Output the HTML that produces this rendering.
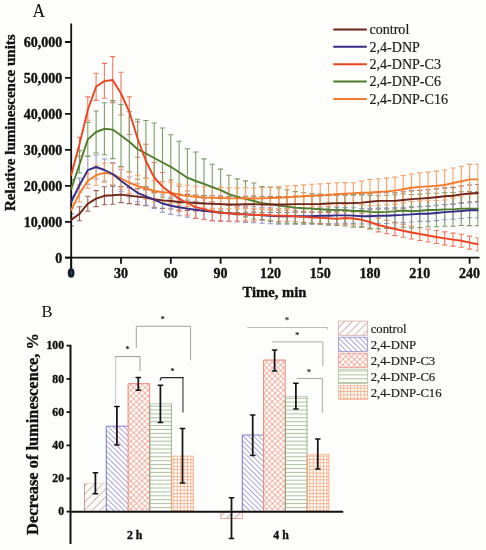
<!DOCTYPE html><html><head><meta charset="utf-8"><style>html,body{margin:0;padding:0;background:#fdfdfb;}svg{display:block}text{font-family:"Liberation Serif",serif;}.b{stroke:#111;stroke-width:0.35px;}</style></head><body>
<svg width="486" height="550" viewBox="0 0 486 550">
<rect width="486" height="550" fill="#fdfdfb"/>
<defs>
<pattern id="pCtl" patternUnits="userSpaceOnUse" width="5.6" height="10" patternTransform="rotate(45)"><line x1="0.5" y1="0" x2="0.5" y2="10" stroke="#cfa39a" stroke-width="0.85"/></pattern>
<pattern id="pDnp" patternUnits="userSpaceOnUse" width="3.7" height="10" patternTransform="rotate(-45)"><line x1="0.5" y1="0" x2="0.5" y2="10" stroke="#9c9ad4" stroke-width="0.9"/></pattern>
<pattern id="pC3a" patternUnits="userSpaceOnUse" width="4.0" height="10" patternTransform="rotate(45)"><line x1="0.5" y1="0" x2="0.5" y2="10" stroke="#f39a88" stroke-width="0.7"/></pattern>
<pattern id="pC3b" patternUnits="userSpaceOnUse" width="4.0" height="10" patternTransform="rotate(-45)"><line x1="0.5" y1="0" x2="0.5" y2="10" stroke="#f39a88" stroke-width="0.7"/></pattern>
<pattern id="pC6" patternUnits="userSpaceOnUse" width="10" height="3.9"><line x1="0" y1="0.5" x2="10" y2="0.5" stroke="#a3bb96" stroke-width="0.9"/></pattern>
<pattern id="pC16" patternUnits="userSpaceOnUse" width="3.4" height="3.4"><path d="M0 0.5H3.4M0.5 0V3.4" stroke="#f5a47a" stroke-width="0.75" fill="none"/></pattern>
<clipPath id="plotA"><rect x="70.4" y="0" width="408.2" height="300"/></clipPath>
</defs>
<text transform="translate(32.5,16.9) scale(1,1.1)" font-size="17.5" fill="#111">A</text>
<text transform="translate(14.8,211) rotate(-90)" font-size="15" font-weight="bold" class="b" fill="#111">Relative luminescence units</text>
<g clip-path="url(#plotA)">
<path d="M71.2 214.0V226.0M68.6 214.0h5.2M68.6 226.0h5.2M79.5 206.8V220.8M76.9 206.8h5.2M76.9 220.8h5.2M87.8 196.2V211.2M85.2 196.2h5.2M85.2 211.2h5.2M96.1 190.6V206.6M93.5 190.6h5.2M93.5 206.6h5.2M104.4 186.8V204.8M101.8 186.8h5.2M101.8 204.8h5.2M112.7 186.3V204.3M110.1 186.3h5.2M110.1 204.3h5.2M121.0 186.6V202.6M118.4 186.6h5.2M118.4 202.6h5.2M129.3 187.6V203.6M126.7 187.6h5.2M126.7 203.6h5.2M137.6 188.6V204.6M135.0 188.6h5.2M135.0 204.6h5.2M145.9 189.6V205.6M143.3 189.6h5.2M143.3 205.6h5.2M154.2 191.3V207.3M151.6 191.3h5.2M151.6 207.3h5.2M162.5 192.4V208.4M159.9 192.4h5.2M159.9 208.4h5.2M170.8 193.0V209.0M168.2 193.0h5.2M168.2 209.0h5.2M179.1 194.0V210.0M176.5 194.0h5.2M176.5 210.0h5.2M187.4 194.4V210.4M184.8 194.4h5.2M184.8 210.4h5.2M195.7 195.0V211.0M193.1 195.0h5.2M193.1 211.0h5.2M204.0 195.5V211.5M201.4 195.5h5.2M201.4 211.5h5.2M212.3 195.7V211.7M209.7 195.7h5.2M209.7 211.7h5.2M220.6 196.1V212.1M218.0 196.1h5.2M218.0 212.1h5.2M228.9 196.5V212.5M226.3 196.5h5.2M226.3 212.5h5.2M237.2 196.5V212.5M234.6 196.5h5.2M234.6 212.5h5.2M245.5 196.3V212.3M242.9 196.3h5.2M242.9 212.3h5.2M253.8 196.1V212.1M251.2 196.1h5.2M251.2 212.1h5.2M262.1 196.5V212.5M259.5 196.5h5.2M259.5 212.5h5.2M270.4 196.5V212.5M267.8 196.5h5.2M267.8 212.5h5.2M278.7 196.5V212.5M276.1 196.5h5.2M276.1 212.5h5.2M287.0 196.5V212.5M284.4 196.5h5.2M284.4 212.5h5.2M295.3 196.1V212.1M292.7 196.1h5.2M292.7 212.1h5.2M303.6 196.1V212.1M301.0 196.1h5.2M301.0 212.1h5.2M311.9 196.1V212.1M309.3 196.1h5.2M309.3 212.1h5.2M320.2 196.0V212.0M317.6 196.0h5.2M317.6 212.0h5.2M328.5 195.5V211.5M325.9 195.5h5.2M325.9 211.5h5.2M336.8 195.1V211.1M334.2 195.1h5.2M334.2 211.1h5.2M345.1 195.1V211.1M342.5 195.1h5.2M342.5 211.1h5.2M353.4 195.0V211.0M350.8 195.0h5.2M350.8 211.0h5.2M361.7 194.6V210.6M359.1 194.6h5.2M359.1 210.6h5.2M370.0 193.8V209.8M367.4 193.8h5.2M367.4 209.8h5.2M378.3 192.8V209.0M375.7 192.8h5.2M375.7 209.0h5.2M386.6 192.8V209.0M384.0 192.8h5.2M384.0 209.0h5.2M394.9 192.8V209.0M392.3 192.8h5.2M392.3 209.0h5.2M403.2 191.8V208.2M400.6 191.8h5.2M400.6 208.2h5.2M411.5 190.9V207.3M408.9 190.9h5.2M408.9 207.3h5.2M419.8 190.3V206.8M417.2 190.3h5.2M417.2 206.8h5.2M428.1 189.7V206.3M425.5 189.7h5.2M425.5 206.3h5.2M436.4 188.9V205.5M433.8 188.9h5.2M433.8 205.5h5.2M444.7 187.9V204.7M442.1 187.9h5.2M442.1 204.7h5.2M453.0 187.4V204.2M450.4 187.4h5.2M450.4 204.2h5.2M461.3 186.0V202.8M458.7 186.0h5.2M458.7 202.8h5.2M469.6 185.0V202.0M467.0 185.0h5.2M467.0 202.0h5.2M477.9 184.5V201.5M475.3 184.5h5.2M475.3 201.5h5.2" stroke="#9c6458" stroke-width="1.1" fill="none"/>
<path d="M71.2 196.0V208.0M68.6 196.0h5.2M68.6 208.0h5.2M79.5 178.0V192.0M76.9 178.0h5.2M76.9 192.0h5.2M87.8 156.2V184.2M85.2 156.2h5.2M85.2 184.2h5.2M96.1 155.0V179.0M93.5 155.0h5.2M93.5 179.0h5.2M104.4 159.0V181.0M101.8 159.0h5.2M101.8 181.0h5.2M112.7 162.5V185.5M110.1 162.5h5.2M110.1 185.5h5.2M121.0 169.8V191.8M118.4 169.8h5.2M118.4 191.8h5.2M129.3 177.0V197.0M126.7 177.0h5.2M126.7 197.0h5.2M137.6 183.8V201.8M135.0 183.8h5.2M135.0 201.8h5.2M145.9 187.4V205.2M143.3 187.4h5.2M143.3 205.2h5.2M154.2 190.8V208.4M151.6 190.8h5.2M151.6 208.4h5.2M162.5 194.8V212.2M159.9 194.8h5.2M159.9 212.2h5.2M170.8 197.0V214.4M168.2 197.0h5.2M168.2 214.4h5.2M179.1 198.6V215.8M176.5 198.6h5.2M176.5 215.8h5.2M187.4 200.1V217.1M184.8 200.1h5.2M184.8 217.1h5.2M195.7 201.4V218.2M193.1 201.4h5.2M193.1 218.2h5.2M204.0 202.6V219.2M201.4 202.6h5.2M201.4 219.2h5.2M212.3 203.7V220.2M209.7 203.7h5.2M209.7 220.2h5.2M220.6 204.5V220.9M218.0 204.5h5.2M218.0 220.9h5.2M228.9 205.2V221.4M226.3 205.2h5.2M226.3 221.4h5.2M237.2 206.0V222.0M234.6 206.0h5.2M234.6 222.0h5.2M245.5 206.4V222.4M242.9 206.4h5.2M242.9 222.4h5.2M253.8 206.8V222.8M251.2 206.8h5.2M251.2 222.8h5.2M262.1 207.5V223.3M259.5 207.5h5.2M259.5 223.3h5.2M270.4 207.9V223.7M267.8 207.9h5.2M267.8 223.7h5.2M278.7 208.4V224.2M276.1 208.4h5.2M276.1 224.2h5.2M287.0 208.4V224.2M284.4 208.4h5.2M284.4 224.2h5.2M295.3 208.4V224.2M292.7 208.4h5.2M292.7 224.2h5.2M303.6 208.4V224.2M301.0 208.4h5.2M301.0 224.2h5.2M311.9 208.5V224.1M309.3 208.5h5.2M309.3 224.1h5.2M320.2 208.0V223.6M317.6 208.0h5.2M317.6 223.6h5.2M328.5 208.0V223.6M325.9 208.0h5.2M325.9 223.6h5.2M336.8 207.6V223.2M334.2 207.6h5.2M334.2 223.2h5.2M345.1 207.6V223.2M342.5 207.6h5.2M342.5 223.2h5.2M353.4 207.8V223.4M350.8 207.8h5.2M350.8 223.4h5.2M361.7 208.6V224.0M359.1 208.6h5.2M359.1 224.0h5.2M370.0 208.6V224.0M367.4 208.6h5.2M367.4 224.0h5.2M378.3 208.1V223.5M375.7 208.1h5.2M375.7 223.5h5.2M386.6 208.1V223.5M384.0 208.1h5.2M384.0 223.5h5.2M394.9 207.5V222.9M392.3 207.5h5.2M392.3 222.9h5.2M403.2 207.2V222.6M400.6 207.2h5.2M400.6 222.6h5.2M411.5 206.8V222.0M408.9 206.8h5.2M408.9 222.0h5.2M419.8 206.2V221.4M417.2 206.2h5.2M417.2 221.4h5.2M428.1 206.2V221.4M425.5 206.2h5.2M425.5 221.4h5.2M436.4 205.4V220.6M433.8 205.4h5.2M433.8 220.6h5.2M444.7 204.5V219.7M442.1 204.5h5.2M442.1 219.7h5.2M453.0 204.0V219.2M450.4 204.0h5.2M450.4 219.2h5.2M461.3 203.5V218.5M458.7 203.5h5.2M458.7 218.5h5.2M469.6 202.7V217.7M467.0 202.7h5.2M467.0 217.7h5.2M477.9 202.7V217.7M475.3 202.7h5.2M475.3 217.7h5.2" stroke="#9a98cc" stroke-width="1.1" fill="none"/>
<path d="M71.2 167.0V179.5M68.6 167.0h5.2M68.6 179.5h5.2M79.5 137.2V156.1M76.9 137.2h5.2M76.9 156.1h5.2M87.8 96.9V120.2M85.2 96.9h5.2M85.2 120.2h5.2M96.1 73.3V100.4M93.5 73.3h5.2M93.5 100.4h5.2M104.4 63.4V98.2M101.8 63.4h5.2M101.8 98.2h5.2M112.7 56.6V102.6M110.1 56.6h5.2M110.1 102.6h5.2M121.0 72.2V115.0M118.4 72.2h5.2M118.4 115.0h5.2M129.3 96.9V134.5M126.7 96.9h5.2M126.7 134.5h5.2M137.6 121.8V157.3M135.0 121.8h5.2M135.0 157.3h5.2M145.9 144.2V178.2M143.3 144.2h5.2M143.3 178.2h5.2M154.2 162.5V192.5M151.6 162.5h5.2M151.6 192.5h5.2M162.5 172.5V200.5M159.9 172.5h5.2M159.9 200.5h5.2M170.8 180.0V206.0M168.2 180.0h5.2M168.2 206.0h5.2M179.1 186.3V211.3M176.5 186.3h5.2M176.5 211.3h5.2M187.4 191.0V215.0M184.8 191.0h5.2M184.8 215.0h5.2M195.7 195.9V218.4M193.1 195.9h5.2M193.1 218.4h5.2M204.0 198.7V219.7M201.4 198.7h5.2M201.4 219.7h5.2M212.3 201.7V220.9M209.7 201.7h5.2M209.7 220.9h5.2M220.6 204.0V221.4M218.0 204.0h5.2M218.0 221.4h5.2M228.9 205.5V221.2M226.3 205.5h5.2M226.3 221.2h5.2M237.2 207.0V221.0M234.6 207.0h5.2M234.6 221.0h5.2M245.5 207.9V220.9M242.9 207.9h5.2M242.9 220.9h5.2M253.8 209.0V221.0M251.2 209.0h5.2M251.2 221.0h5.2M262.1 209.3V220.3M259.5 209.3h5.2M259.5 220.3h5.2M270.4 209.9V220.9M267.8 209.9h5.2M267.8 220.9h5.2M278.7 210.3V221.3M276.1 210.3h5.2M276.1 221.3h5.2M287.0 210.3V221.3M284.4 210.3h5.2M284.4 221.3h5.2M295.3 210.8V221.8M292.7 210.8h5.2M292.7 221.8h5.2M303.6 211.4V222.4M301.0 211.4h5.2M301.0 222.4h5.2M311.9 212.0V223.0M309.3 212.0h5.2M309.3 223.0h5.2M320.2 212.4V223.4M317.6 212.4h5.2M317.6 223.4h5.2M328.5 212.6V224.1M325.9 212.6h5.2M325.9 224.1h5.2M336.8 212.9V224.9M334.2 212.9h5.2M334.2 224.9h5.2M345.1 211.8V224.2M342.5 211.8h5.2M342.5 224.2h5.2M353.4 212.0V225.0M350.8 212.0h5.2M350.8 225.0h5.2M361.7 213.1V226.6M359.1 213.1h5.2M359.1 226.6h5.2M370.0 215.0V229.0M367.4 215.0h5.2M367.4 229.0h5.2M378.3 218.1V231.9M375.7 218.1h5.2M375.7 231.9h5.2M386.6 220.2V233.8M384.0 220.2h5.2M384.0 233.8h5.2M394.9 222.4V235.6M392.3 222.4h5.2M392.3 235.6h5.2M403.2 224.3V237.3M400.6 224.3h5.2M400.6 237.3h5.2M411.5 226.0V239.0M408.9 226.0h5.2M408.9 239.0h5.2M419.8 227.5V240.5M417.2 227.5h5.2M417.2 240.5h5.2M428.1 229.0V242.0M425.5 229.0h5.2M425.5 242.0h5.2M436.4 230.5V243.5M433.8 230.5h5.2M433.8 243.5h5.2M444.7 231.9V244.9M442.1 231.9h5.2M442.1 244.9h5.2M453.0 233.1V246.1M450.4 233.1h5.2M450.4 246.1h5.2M461.3 234.3V247.3M458.7 234.3h5.2M458.7 247.3h5.2M469.6 236.1V249.1M467.0 236.1h5.2M467.0 249.1h5.2M477.9 237.8V250.8M475.3 237.8h5.2M475.3 250.8h5.2" stroke="#f27a62" stroke-width="1.1" fill="none"/>
<path d="M71.2 181.0V197.0M68.6 181.0h5.2M68.6 197.0h5.2M79.5 150.6V173.0M76.9 150.6h5.2M76.9 173.0h5.2M87.8 122.4V156.4M85.2 122.4h5.2M85.2 156.4h5.2M96.1 111.0V153.0M93.5 111.0h5.2M93.5 153.0h5.2M104.4 102.8V154.8M101.8 102.8h5.2M101.8 154.8h5.2M112.7 100.6V158.6M110.1 100.6h5.2M110.1 158.6h5.2M121.0 104.5V166.5M118.4 104.5h5.2M118.4 166.5h5.2M129.3 111.8V171.8M126.7 111.8h5.2M126.7 171.8h5.2M137.6 119.2V179.2M135.0 119.2h5.2M135.0 179.2h5.2M145.9 120.5V186.5M143.3 120.5h5.2M143.3 186.5h5.2M154.2 123.0V193.0M151.6 123.0h5.2M151.6 193.0h5.2M162.5 128.0V197.0M159.9 128.0h5.2M159.9 197.0h5.2M170.8 134.8V198.8M168.2 134.8h5.2M168.2 198.8h5.2M179.1 141.2V203.2M176.5 141.2h5.2M176.5 203.2h5.2M187.4 148.7V206.7M184.8 148.7h5.2M184.8 206.7h5.2M195.7 152.0V210.0M193.1 152.0h5.2M193.1 210.0h5.2M204.0 158.9V208.9M201.4 158.9h5.2M201.4 208.9h5.2M212.3 164.2V210.2M209.7 164.2h5.2M209.7 210.2h5.2M220.6 169.1V211.1M218.0 169.1h5.2M218.0 211.1h5.2M228.9 175.2V213.2M226.3 175.2h5.2M226.3 213.2h5.2M237.2 178.9V214.9M234.6 178.9h5.2M234.6 214.9h5.2M245.5 180.9V216.9M242.9 180.9h5.2M242.9 216.9h5.2M253.8 183.0V219.0M251.2 183.0h5.2M251.2 219.0h5.2M262.1 186.6V219.6M259.5 186.6h5.2M259.5 219.6h5.2M270.4 187.1V221.1M267.8 187.1h5.2M267.8 221.1h5.2M278.7 188.1V223.1M276.1 188.1h5.2M276.1 223.1h5.2M287.0 189.8V223.3M284.4 189.8h5.2M284.4 223.3h5.2M295.3 191.6V223.6M292.7 191.6h5.2M292.7 223.6h5.2M303.6 192.7V223.7M301.0 192.7h5.2M301.0 223.7h5.2M311.9 193.6V223.6M309.3 193.6h5.2M309.3 223.6h5.2M320.2 194.1V224.5M317.6 194.1h5.2M317.6 224.5h5.2M328.5 194.3V225.1M325.9 194.3h5.2M325.9 225.1h5.2M336.8 194.3V225.5M334.2 194.3h5.2M334.2 225.5h5.2M345.1 194.2V226.0M342.5 194.2h5.2M342.5 226.0h5.2M353.4 194.9V227.1M350.8 194.9h5.2M350.8 227.1h5.2M361.7 194.7V227.3M359.1 194.7h5.2M359.1 227.3h5.2M370.0 195.4V228.4M367.4 195.4h5.2M367.4 228.4h5.2M378.3 195.7V228.7M375.7 195.7h5.2M375.7 228.7h5.2M386.6 195.3V228.5M384.0 195.3h5.2M384.0 228.5h5.2M394.9 194.8V228.0M392.3 194.8h5.2M392.3 228.0h5.2M403.2 193.8V227.2M400.6 193.8h5.2M400.6 227.2h5.2M411.5 194.5V227.9M408.9 194.5h5.2M408.9 227.9h5.2M419.8 194.1V227.5M417.2 194.1h5.2M417.2 227.5h5.2M428.1 193.2V226.8M425.5 193.2h5.2M425.5 226.8h5.2M436.4 193.2V226.8M433.8 193.2h5.2M433.8 226.8h5.2M444.7 192.6V226.2M442.1 192.6h5.2M442.1 226.2h5.2M453.0 192.5V226.3M450.4 192.5h5.2M450.4 226.3h5.2M461.3 191.7V225.5M458.7 191.7h5.2M458.7 225.5h5.2M469.6 191.6V225.6M467.0 191.6h5.2M467.0 225.6h5.2M477.9 191.6V225.6M475.3 191.6h5.2M475.3 225.6h5.2" stroke="#7d9d6c" stroke-width="1.1" fill="none"/>
<path d="M71.2 203.0V217.0M68.6 203.0h5.2M68.6 217.0h5.2M79.5 185.0V202.0M76.9 185.0h5.2M76.9 202.0h5.2M87.8 173.3V188.3M85.2 173.3h5.2M85.2 188.3h5.2M96.1 165.2V185.2M93.5 165.2h5.2M93.5 185.2h5.2M104.4 163.3V182.3M101.8 163.3h5.2M101.8 182.3h5.2M112.7 163.5V184.7M110.1 163.5h5.2M110.1 184.7h5.2M121.0 167.8V189.2M118.4 167.8h5.2M118.4 189.2h5.2M129.3 172.0V193.4M126.7 172.0h5.2M126.7 193.4h5.2M137.6 175.3V196.7M135.0 175.3h5.2M135.0 196.7h5.2M145.9 177.8V199.2M143.3 177.8h5.2M143.3 199.2h5.2M154.2 180.3V201.7M151.6 180.3h5.2M151.6 201.7h5.2M162.5 181.6V202.8M159.9 181.6h5.2M159.9 202.8h5.2M170.8 182.2V203.4M168.2 182.2h5.2M168.2 203.4h5.2M179.1 184.1V205.3M176.5 184.1h5.2M176.5 205.3h5.2M187.4 185.3V206.5M184.8 185.3h5.2M184.8 206.5h5.2M195.7 186.2V207.4M193.1 186.2h5.2M193.1 207.4h5.2M204.0 186.8V208.0M201.4 186.8h5.2M201.4 208.0h5.2M212.3 187.2V208.4M209.7 187.2h5.2M209.7 208.4h5.2M220.6 187.4V208.6M218.0 187.4h5.2M218.0 208.6h5.2M228.9 187.9V208.9M226.3 187.9h5.2M226.3 208.9h5.2M237.2 187.9V208.9M234.6 187.9h5.2M234.6 208.9h5.2M245.5 187.8V208.8M242.9 187.8h5.2M242.9 208.8h5.2M253.8 188.0V209.0M251.2 188.0h5.2M251.2 209.0h5.2M262.1 187.7V209.1M259.5 187.7h5.2M259.5 209.1h5.2M270.4 187.1V208.9M267.8 187.1h5.2M267.8 208.9h5.2M278.7 186.6V208.8M276.1 186.6h5.2M276.1 208.8h5.2M287.0 186.0V208.6M284.4 186.0h5.2M284.4 208.6h5.2M295.3 185.6V208.2M292.7 185.6h5.2M292.7 208.2h5.2M303.6 184.9V207.7M301.0 184.9h5.2M301.0 207.7h5.2M311.9 184.3V207.1M309.3 184.3h5.2M309.3 207.1h5.2M320.2 183.9V206.7M317.6 183.9h5.2M317.6 206.7h5.2M328.5 183.4V206.4M325.9 183.4h5.2M325.9 206.4h5.2M336.8 182.7V205.7M334.2 182.7h5.2M334.2 205.7h5.2M345.1 182.6V204.6M342.5 182.6h5.2M342.5 204.6h5.2M353.4 182.8V203.8M350.8 182.8h5.2M350.8 203.8h5.2M361.7 181.1V204.6M359.1 181.1h5.2M359.1 204.6h5.2M370.0 179.5V205.5M367.4 179.5h5.2M367.4 205.5h5.2M378.3 178.8V205.2M375.7 178.8h5.2M375.7 205.2h5.2M386.6 178.1V204.7M384.0 178.1h5.2M384.0 204.7h5.2M394.9 177.1V204.1M392.3 177.1h5.2M392.3 204.1h5.2M403.2 175.5V202.9M400.6 175.5h5.2M400.6 202.9h5.2M411.5 174.0V201.6M408.9 174.0h5.2M408.9 201.6h5.2M419.8 172.9V200.9M417.2 172.9h5.2M417.2 200.9h5.2M428.1 172.1V200.7M425.5 172.1h5.2M425.5 200.7h5.2M436.4 171.1V200.5M433.8 171.1h5.2M433.8 200.5h5.2M444.7 170.0V200.0M442.1 170.0h5.2M442.1 200.0h5.2M453.0 168.0V198.0M450.4 168.0h5.2M450.4 198.0h5.2M461.3 166.3V196.3M458.7 166.3h5.2M458.7 196.3h5.2M469.6 164.4V194.4M467.0 164.4h5.2M467.0 194.4h5.2M477.9 164.4V194.4M475.3 164.4h5.2M475.3 194.4h5.2" stroke="#f7a068" stroke-width="1.1" fill="none"/>
</g>
<path d="M71.2 23.5V269" stroke="#111" stroke-width="1.8" fill="none"/>
<path d="M65 257.7H479.5" stroke="#111" stroke-width="1.8" fill="none"/>
<g clip-path="url(#plotA)">
<polyline points="71.2,189.0 79.5,164.5 87.8,139.4 96.1,132.0 104.4,128.8 112.7,129.6 121.0,135.5 129.3,141.8 137.6,149.2 145.9,153.5 154.2,158.0 162.5,162.5 170.8,166.8 179.1,172.2 187.4,177.7 195.7,181.0 204.0,183.9 212.3,187.2 220.6,190.1 228.9,194.2 237.2,196.9 245.5,198.9 253.8,201.0 262.1,203.1 270.4,204.1 278.7,205.6 287.0,206.6 295.3,207.6 303.6,208.2 311.9,208.6 320.2,209.3 328.5,209.7 336.8,209.9 345.1,210.1 353.4,211.0 361.7,211.0 370.0,211.9 378.3,212.2 386.6,211.9 394.9,211.4 403.2,210.5 411.5,211.2 419.8,210.8 428.1,210.0 436.4,210.0 444.7,209.4 453.0,209.4 461.3,208.6 469.6,208.6 477.9,208.6" stroke="#4e7d2c" stroke-width="1.9" fill="none" stroke-linejoin="round" stroke-linecap="round"/>
<polyline points="71.2,210.0 79.5,193.5 87.8,180.8 96.1,175.2 104.4,172.8 112.7,174.1 121.0,178.5 129.3,182.7 137.6,186.0 145.9,188.5 154.2,191.0 162.5,192.2 170.8,192.8 179.1,194.7 187.4,195.9 195.7,196.8 204.0,197.4 212.3,197.8 220.6,198.0 228.9,198.4 237.2,198.4 245.5,198.3 253.8,198.5 262.1,198.4 270.4,198.0 278.7,197.7 287.0,197.3 295.3,196.9 303.6,196.3 311.9,195.7 320.2,195.3 328.5,194.9 336.8,194.2 345.1,193.6 353.4,193.3 361.7,192.8 370.0,192.5 378.3,192.0 386.6,191.4 394.9,190.6 403.2,189.2 411.5,187.8 419.8,186.9 428.1,186.4 436.4,185.8 444.7,185.0 453.0,183.0 461.3,181.3 469.6,179.4 477.9,179.4" stroke="#f47b2a" stroke-width="1.9" fill="none" stroke-linejoin="round" stroke-linecap="round"/>
<polyline points="71.2,220.0 79.5,213.8 87.8,203.7 96.1,198.6 104.4,195.8 112.7,195.3 121.0,194.6 129.3,195.6 137.6,196.6 145.9,197.6 154.2,199.3 162.5,200.4 170.8,201.0 179.1,202.0 187.4,202.4 195.7,203.0 204.0,203.5 212.3,203.7 220.6,204.1 228.9,204.5 237.2,204.5 245.5,204.3 253.8,204.1 262.1,204.5 270.4,204.5 278.7,204.5 287.0,204.5 295.3,204.1 303.6,204.1 311.9,204.1 320.2,204.0 328.5,203.5 336.8,203.1 345.1,203.1 353.4,203.0 361.7,202.6 370.0,201.8 378.3,200.9 386.6,200.9 394.9,200.9 403.2,200.0 411.5,199.1 419.8,198.6 428.1,198.0 436.4,197.2 444.7,196.3 453.0,195.8 461.3,194.4 469.6,193.5 477.9,193.0" stroke="#6e2518" stroke-width="1.9" fill="none" stroke-linejoin="round" stroke-linecap="round"/>
<polyline points="71.2,202.0 79.5,185.0 87.8,170.2 96.1,167.0 104.4,170.0 112.7,174.0 121.0,180.8 129.3,187.0 137.6,192.8 145.9,196.3 154.2,199.6 162.5,203.5 170.8,205.7 179.1,207.2 187.4,208.6 195.7,209.8 204.0,210.9 212.3,211.9 220.6,212.7 228.9,213.3 237.2,214.0 245.5,214.4 253.8,214.8 262.1,215.4 270.4,215.8 278.7,216.3 287.0,216.3 295.3,216.3 303.6,216.3 311.9,216.3 320.2,215.8 328.5,215.8 336.8,215.4 345.1,215.4 353.4,215.6 361.7,216.3 370.0,216.3 378.3,215.8 386.6,215.8 394.9,215.2 403.2,214.9 411.5,214.4 419.8,213.8 428.1,213.8 436.4,213.0 444.7,212.1 453.0,211.6 461.3,211.0 469.6,210.2 477.9,210.2" stroke="#352c88" stroke-width="1.9" fill="none" stroke-linejoin="round" stroke-linecap="round"/>
<polyline points="71.2,175.0 79.5,144.0 87.8,110.0 96.1,86.7 104.4,81.1 112.7,80.0 121.0,93.5 129.3,111.8 137.6,138.5 145.9,161.0 154.2,177.5 162.5,186.5 170.8,193.0 179.1,198.8 187.4,203.0 195.7,207.2 204.0,209.2 212.3,211.3 220.6,212.7 228.9,213.3 237.2,214.0 245.5,214.4 253.8,215.0 262.1,214.8 270.4,215.4 278.7,215.8 287.0,215.8 295.3,216.3 303.6,216.9 311.9,217.5 320.2,217.9 328.5,218.3 336.8,218.9 345.1,218.0 353.4,218.5 361.7,219.8 370.0,222.0 378.3,225.0 386.6,227.0 394.9,229.0 403.2,230.8 411.5,232.5 419.8,234.0 428.1,235.5 436.4,237.0 444.7,238.4 453.0,239.6 461.3,240.8 469.6,242.6 477.9,244.3" stroke="#ec4422" stroke-width="1.9" fill="none" stroke-linejoin="round" stroke-linecap="round"/>
</g>
<path d="M65 257.7H71M65 221.8H71M65 185.8H71M65 149.8H71M65 113.9H71M65 77.9H71M65 42.0H71M121.0 257.7V263.8M170.8 257.7V263.8M220.6 257.7V263.8M270.4 257.7V263.8M320.2 257.7V263.8M370.0 257.7V263.8M419.8 257.7V263.8M469.6 257.7V263.8" stroke="#111" stroke-width="1.8" fill="none"/>
<text x="62.2" y="262.9" font-size="14" font-weight="bold" class="b" text-anchor="end" fill="#111">0</text>
<text x="62.2" y="226.9" font-size="14" font-weight="bold" class="b" text-anchor="end" fill="#111">10,000</text>
<text x="62.2" y="191.0" font-size="14" font-weight="bold" class="b" text-anchor="end" fill="#111">20,000</text>
<text x="62.2" y="155.0" font-size="14" font-weight="bold" class="b" text-anchor="end" fill="#111">30,000</text>
<text x="62.2" y="119.1" font-size="14" font-weight="bold" class="b" text-anchor="end" fill="#111">40,000</text>
<text x="62.2" y="83.1" font-size="14" font-weight="bold" class="b" text-anchor="end" fill="#111">50,000</text>
<text x="62.2" y="47.2" font-size="14" font-weight="bold" class="b" text-anchor="end" fill="#111">60,000</text>
<text x="121.0" y="278" font-size="14" font-weight="bold" class="b" text-anchor="middle" fill="#111">30</text>
<text x="170.8" y="278" font-size="14" font-weight="bold" class="b" text-anchor="middle" fill="#111">60</text>
<text x="220.6" y="278" font-size="14" font-weight="bold" class="b" text-anchor="middle" fill="#111">90</text>
<text x="270.4" y="278" font-size="14" font-weight="bold" class="b" text-anchor="middle" fill="#111">120</text>
<text x="320.2" y="278" font-size="14" font-weight="bold" class="b" text-anchor="middle" fill="#111">150</text>
<text x="370.0" y="278" font-size="14" font-weight="bold" class="b" text-anchor="middle" fill="#111">180</text>
<text x="419.8" y="278" font-size="14" font-weight="bold" class="b" text-anchor="middle" fill="#111">210</text>
<text x="469.6" y="278" font-size="14" font-weight="bold" class="b" text-anchor="middle" fill="#111">240</text>
<path d="M71.2 257.7V270" stroke="#111" stroke-width="1.8" fill="none"/>
<text x="71.1" y="277" font-size="12.5" font-weight="bold" text-anchor="middle" fill="#15222e" stroke="#15222e" stroke-width="1.5">0</text>
<text x="274.5" y="296.6" font-size="14.6" font-weight="bold" class="b" text-anchor="middle" fill="#111">Time, min</text>
<path d="M333.3 29.4H366.8" stroke="#6e2518" stroke-width="2"/>
<text x="369.5" y="34.2" font-size="14.05" fill="#1c1c1c" stroke="#1c1c1c" stroke-width="0.2">control</text>
<path d="M333.3 46.8H366.8" stroke="#352c88" stroke-width="2"/>
<text x="369.5" y="51.6" font-size="14.05" fill="#1c1c1c" stroke="#1c1c1c" stroke-width="0.2">2,4-DNP</text>
<path d="M333.3 64.2H366.8" stroke="#ec4422" stroke-width="2"/>
<text x="369.5" y="69.0" font-size="14.05" fill="#1c1c1c" stroke="#1c1c1c" stroke-width="0.2">2,4-DNP-C3</text>
<path d="M333.3 81.6H366.8" stroke="#4e7d2c" stroke-width="2"/>
<text x="369.5" y="86.4" font-size="14.05" fill="#1c1c1c" stroke="#1c1c1c" stroke-width="0.2">2,4-DNP-C6</text>
<path d="M333.3 99.0H366.8" stroke="#f47b2a" stroke-width="2"/>
<text x="369.5" y="103.8" font-size="14.05" fill="#1c1c1c" stroke="#1c1c1c" stroke-width="0.2">2,4-DNP-C16</text>
<text x="41.6" y="317.1" font-size="16.5" fill="#111">B</text>
<text transform="translate(38.4,534.9) rotate(-90)" font-size="16.4" font-weight="bold" class="b" fill="#111">Decrease of luminescence, %</text>
<rect x="84.5" y="483.2" width="21.8" height="28.5" fill="url(#pCtl)"/>
<path d="M84.5 511.7V483.2" fill="none" stroke="#c49088" stroke-width="0.9"/>
<path d="M84.5 483.2H106.3" fill="none" stroke="#e8d8d2" stroke-width="0.9"/>
<rect x="106.3" y="426.2" width="21.8" height="85.5" fill="url(#pDnp)"/>
<path d="M106.3 511.7V426.2" fill="none" stroke="#6a68c0" stroke-width="0.9"/>
<path d="M106.3 426.2H128.1" fill="none" stroke="#7a78c8" stroke-width="0.9"/>
<rect x="128.1" y="383.7" width="21.8" height="128.0" fill="url(#pC3a)"/>
<rect x="128.1" y="383.7" width="21.8" height="128.0" fill="url(#pC3b)"/>
<path d="M128.1 511.7V383.7" fill="none" stroke="#f07a68" stroke-width="0.9"/>
<path d="M149.6 511.7V383.7" fill="none" stroke="#f07a68" stroke-width="0.8"/>
<path d="M128.1 383.7H149.9" fill="none" stroke="#f07a68" stroke-width="0.9"/>
<rect x="149.9" y="403.7" width="21.8" height="108.0" fill="url(#pC6)"/>
<path d="M149.9 511.7V403.7" fill="none" stroke="#86a676" stroke-width="0.9"/>
<path d="M171.4 511.7V403.7" fill="none" stroke="#86a676" stroke-width="0.8"/>
<path d="M149.9 403.7H171.7" fill="none" stroke="#b8cbb0" stroke-width="0.9"/>
<rect x="171.7" y="456" width="21.9" height="55.7" fill="url(#pC16)"/>
<path d="M171.7 511.7V456" fill="none" stroke="#f5a070" stroke-width="0.9"/>
<path d="M193.3 511.7V456" fill="none" stroke="#f5a070" stroke-width="0.8"/>
<path d="M171.7 456H193.6" fill="none" stroke="#f8c8ae" stroke-width="0.9"/>
<rect x="220.9" y="511.7" width="21.4" height="6.8" fill="url(#pCtl)" stroke="#d3a59c" stroke-width="0.9"/>
<rect x="242.3" y="435" width="21.3" height="76.7" fill="url(#pDnp)"/>
<path d="M242.3 511.7V435" fill="none" stroke="#6a68c0" stroke-width="0.9"/>
<path d="M242.3 435H263.6" fill="none" stroke="#7a78c8" stroke-width="0.9"/>
<rect x="263.6" y="360" width="21.9" height="151.7" fill="url(#pC3a)"/>
<rect x="263.6" y="360" width="21.9" height="151.7" fill="url(#pC3b)"/>
<path d="M263.6 511.7V360" fill="none" stroke="#f07a68" stroke-width="0.9"/>
<path d="M285.2 511.7V360" fill="none" stroke="#f07a68" stroke-width="0.8"/>
<path d="M263.6 360H285.5" fill="none" stroke="#f07a68" stroke-width="0.9"/>
<rect x="285.5" y="396.4" width="21.8" height="115.3" fill="url(#pC6)"/>
<path d="M285.5 511.7V396.4" fill="none" stroke="#86a676" stroke-width="0.9"/>
<path d="M307.0 511.7V396.4" fill="none" stroke="#86a676" stroke-width="0.8"/>
<path d="M285.5 396.4H307.3" fill="none" stroke="#b8cbb0" stroke-width="0.9"/>
<rect x="307.3" y="454.3" width="21.9" height="57.4" fill="url(#pC16)"/>
<path d="M307.3 511.7V454.3" fill="none" stroke="#f5a070" stroke-width="0.9"/>
<path d="M328.9 511.7V454.3" fill="none" stroke="#f5a070" stroke-width="0.8"/>
<path d="M307.3 454.3H329.2" fill="none" stroke="#f8c8ae" stroke-width="0.9"/>
<path d="M70.5 344.8V544" stroke="#111" stroke-width="2" fill="none"/>
<path d="M70.5 511.7H343.3" stroke="#111" stroke-width="2" fill="none"/>
<path d="M66.5 511.7H70.5M66.5 478.5H70.5M66.5 445.3H70.5M66.5 412.1H70.5M66.5 378.9H70.5M66.5 345.7H70.5" stroke="#111" stroke-width="1.8" fill="none"/>
<text x="64" y="515.3" font-size="11.7" font-weight="bold" class="b" text-anchor="end" fill="#111">0</text>
<text x="64" y="482.1" font-size="11.7" font-weight="bold" class="b" text-anchor="end" fill="#111">20</text>
<text x="64" y="448.9" font-size="11.7" font-weight="bold" class="b" text-anchor="end" fill="#111">40</text>
<text x="64" y="415.7" font-size="11.7" font-weight="bold" class="b" text-anchor="end" fill="#111">60</text>
<text x="64" y="382.5" font-size="11.7" font-weight="bold" class="b" text-anchor="end" fill="#111">80</text>
<text x="64" y="349.3" font-size="11.7" font-weight="bold" class="b" text-anchor="end" fill="#111">100</text>
<text x="134.7" y="539.4" font-size="11.8" font-weight="bold" class="b" text-anchor="middle" fill="#111">2 h</text>
<text x="281" y="539.4" font-size="11.8" font-weight="bold" class="b" text-anchor="middle" fill="#111">4 h</text>
<path d="M95.4 472.8V493.8M116.9 406.6V445.1M138.3 377.6V390.3M160.4 385.2V422.6M182.5 428.6V482.9M231.5 497.7V538.6M252.7 415V455.5M274.6 350.1V371.1M295.9 383.2V409M317.8 439.1V469.1" stroke="#151515" stroke-width="1.75" fill="none"/>
<path d="M93.2 472.8h4.4M93.2 493.8h4.4M114.7 406.6h4.4M114.7 445.1h4.4M136.1 377.6h4.4M136.1 390.3h4.4M158.2 385.2h4.4M158.2 422.6h4.4M180.3 428.6h4.4M180.3 482.9h4.4M229.3 497.7h4.4M229.3 538.6h4.4M250.5 415h4.4M250.5 455.5h4.4M272.4 350.1h4.4M272.4 371.1h4.4M293.7 383.2h4.4M293.7 409h4.4M315.6 439.1h4.4M315.6 469.1h4.4" stroke="#151515" stroke-width="1.5" stroke-linecap="round" fill="none"/>
<path d="M115.6 403.6V356.6" stroke="#c4c4c4" stroke-width="1" fill="none"/>
<path d="M115.1 356.6H140V371.1" stroke="#9c9c9c" stroke-width="1" fill="none"/>
<path d="M136.3 348V326.3H190.6V360.4" stroke="#a2a2a2" stroke-width="1" fill="none"/>
<path d="M182.9 377.6V412.4" stroke="#7a7a7a" stroke-width="1.7" fill="none"/>
<path d="M160.4 380.5V379.2Q160.4 377.6 162 377.6H183.6" stroke="#2a2a2a" stroke-width="1.4" fill="none"/>
<path d="M247.2 327.5H327.4V329.5" stroke="#bdbdbd" stroke-width="1" fill="none"/>
<path d="M271.9 341.9H322.9V366M296.6 378.5H322.3V412.9" stroke="#a8a8a8" stroke-width="1" fill="none"/>
<text x="127.6" y="352.4" font-size="9" font-weight="bold" text-anchor="middle" fill="#222">*</text>
<text x="162.8" y="322.4" font-size="9" font-weight="bold" text-anchor="middle" fill="#222">*</text>
<text x="172.4" y="374.3" font-size="9" font-weight="bold" text-anchor="middle" fill="#222">*</text>
<text x="286.9" y="323.4" font-size="9" font-weight="bold" text-anchor="middle" fill="#222">*</text>
<text x="297.2" y="338.4" font-size="9" font-weight="bold" text-anchor="middle" fill="#222">*</text>
<text x="308.9" y="374.8" font-size="9" font-weight="bold" text-anchor="middle" fill="#222">*</text>
<rect x="338.6" y="321.1" width="28.9" height="14.2" fill="url(#pCtl)"/>
<rect x="338.6" y="321.1" width="28.9" height="14.2" fill="none" stroke="#d0aaa2" stroke-width="0.75"/>
<text x="370.7" y="333.0" font-size="12.7" fill="#1c1c1c" stroke="#1c1c1c" stroke-width="0.2">control</text>
<rect x="338.6" y="337.2" width="28.9" height="14.2" fill="url(#pDnp)"/>
<rect x="338.6" y="337.2" width="28.9" height="14.2" fill="none" stroke="#8c8ad0" stroke-width="0.75"/>
<text x="370.7" y="349.1" font-size="12.7" fill="#1c1c1c" stroke="#1c1c1c" stroke-width="0.2">2,4-DNP</text>
<rect x="338.6" y="353.2" width="28.9" height="14.2" fill="url(#pC3a)"/>
<rect x="338.6" y="353.2" width="28.9" height="14.2" fill="url(#pC3b)"/>
<rect x="338.6" y="353.2" width="28.9" height="14.2" fill="none" stroke="#f29484" stroke-width="0.75"/>
<text x="370.7" y="365.1" font-size="12.7" fill="#1c1c1c" stroke="#1c1c1c" stroke-width="0.2">2,4-DNP-C3</text>
<rect x="338.6" y="369.2" width="28.9" height="14.2" fill="url(#pC6)"/>
<rect x="338.6" y="369.2" width="28.9" height="14.2" fill="none" stroke="#a4bf98" stroke-width="0.75"/>
<text x="370.7" y="381.1" font-size="12.7" fill="#1c1c1c" stroke="#1c1c1c" stroke-width="0.2">2,4-DNP-C6</text>
<rect x="338.6" y="385.3" width="28.9" height="14.2" fill="url(#pC16)"/>
<rect x="338.6" y="385.3" width="28.9" height="14.2" fill="none" stroke="#f6b08a" stroke-width="0.75"/>
<text x="370.7" y="397.2" font-size="12.7" fill="#1c1c1c" stroke="#1c1c1c" stroke-width="0.2">2,4-DNP-C16</text>
</svg></body></html>
